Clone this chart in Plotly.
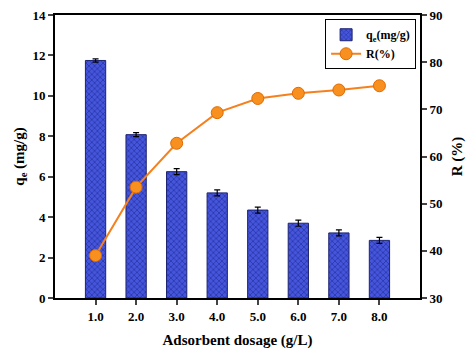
import plotly.graph_objects as go

dosage = [1, 2, 3, 4, 5, 6, 7, 8]
dosage_labels = ["1.0", "2.0", "3.0", "4.0", "5.0", "6.0", "7.0", "8.0"]
qe = [11.75, 8.08, 6.25, 5.2, 4.35, 3.7, 3.22, 2.85]
qe_err = [0.08, 0.1, 0.15, 0.15, 0.15, 0.15, 0.15, 0.15]
removal = [39.0, 53.5, 62.8, 69.3, 72.3, 73.4, 74.1, 75.0]

font_family = "Liberation Serif"

fig = go.Figure()
fig.add_trace(go.Bar(
    x=dosage, y=qe, width=0.5, name="q<sub>e</sub>(mg/g)",
    marker=dict(color="#3545d0", line=dict(color="#1c2370", width=1),
                pattern=dict(shape="x", fgcolor="#121c80", bgcolor="#4656dc", size=4, solidity=0.4)),
    error_y=dict(type="data", array=qe_err, color="black", thickness=1.2, width=3),
))
fig.add_trace(go.Scatter(
    x=dosage, y=removal, yaxis="y2", name="R(%)", mode="lines+markers",
    line=dict(color="#f5801e", width=2),
    marker=dict(color="#f7901e", size=12, line=dict(color="#e06a00", width=1)),
))

fig.update_layout(
    width=474, height=354,
    margin=dict(l=55, r=54, t=8, b=54),
    paper_bgcolor="white", plot_bgcolor="white",
    font=dict(family=font_family, color="black"),
    showlegend=True,
    legend=dict(x=0.74, y=0.985, xanchor="left", yanchor="top",
                bordercolor="black", borderwidth=1, bgcolor="white",
                font=dict(family=font_family, size=12, color="black", weight="bold"),
                tracegroupgap=0, itemwidth=30),
    xaxis=dict(range=[0, 9], tickvals=dosage, ticktext=dosage_labels,
               showline=True, linecolor="black", linewidth=2, mirror=True,
               ticks="outside", ticklen=5, tickwidth=2, showgrid=False, zeroline=False,
               tickfont=dict(family=font_family, size=13, color="black", weight="bold"),
               title=dict(text="Adsorbent dosage (g/L)", standoff=12,
                          font=dict(family=font_family, size=15, color="black", weight="bold"))),
    yaxis=dict(range=[0, 14], dtick=2, showline=True, linecolor="black", linewidth=2,
               ticks="outside", ticklen=5, tickwidth=2, showgrid=False, zeroline=False,
               tickfont=dict(family=font_family, size=13, color="black", weight="bold"),
               title=dict(text="q<sub>e</sub> (mg/g)", standoff=4,
                          font=dict(family=font_family, size=15, color="black", weight="bold"))),
    yaxis2=dict(range=[30, 90], dtick=10, overlaying="y", side="right",
                showline=True, linecolor="black", linewidth=2,
                ticks="outside", ticklen=5, tickwidth=2, showgrid=False, zeroline=False,
                tickfont=dict(family=font_family, size=13, color="black", weight="bold"),
                title=dict(text="R (%)", standoff=10,
                           font=dict(family=font_family, size=15, color="black", weight="bold"))),
)

fig.write_html("out.html")
